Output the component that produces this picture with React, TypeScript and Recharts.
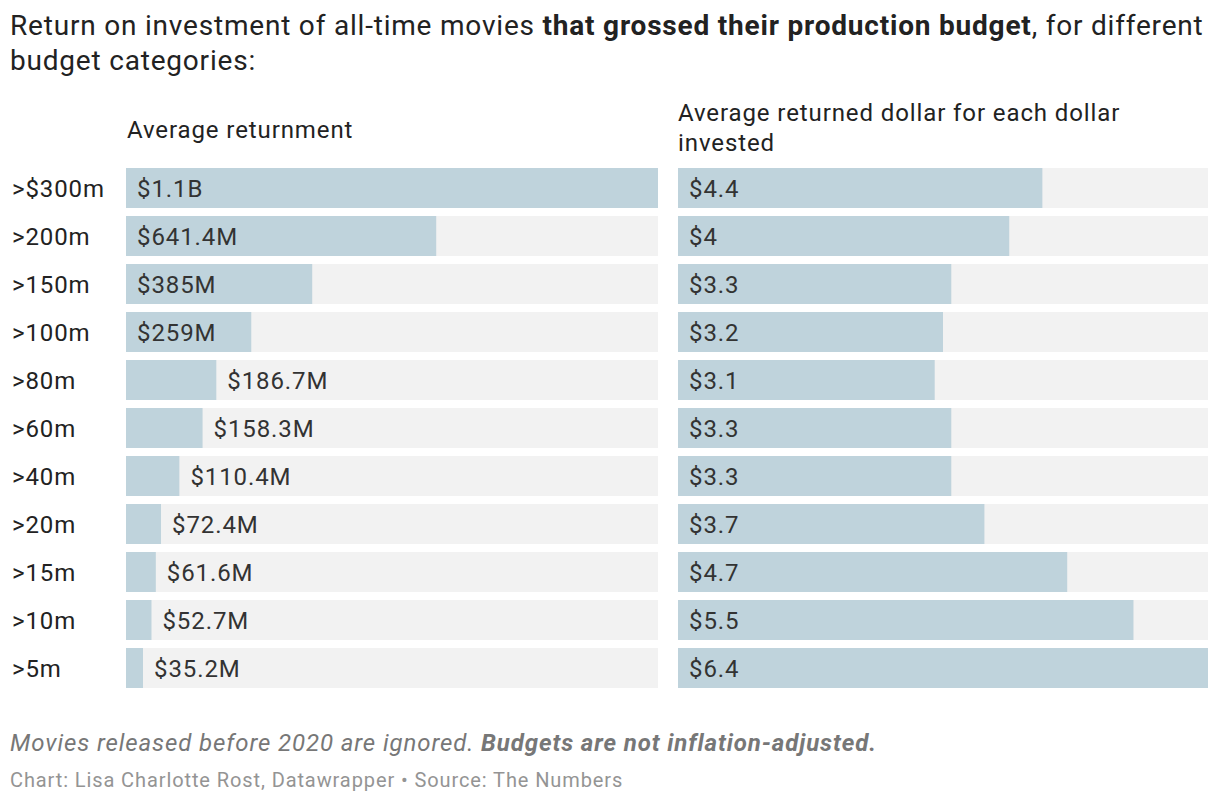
import React from 'react';
import { BarChart, Bar, XAxis, YAxis, LabelList } from 'recharts';

const categories = ['>$300m', '>200m', '>150m', '>100m', '>80m', '>60m', '>40m', '>20m', '>15m', '>10m', '>5m'];
// average gross per movie, in $M
const avgReturn = [1100, 641.4, 385, 259, 186.7, 158.3, 110.4, 72.4, 61.6, 52.7, 35.2];
// dollars returned per dollar invested
const dollarReturn = [4.4, 4, 3.3, 3.2, 3.1, 3.3, 3.3, 3.7, 4.7, 5.5, 6.4];

const leftData = categories.map((name, i) => ({ name, value: avgReturn[i] }));
const rightData = categories.map((name, i) => ({ name, value: dollarReturn[i] }));

const FONT = 'Roboto, "Noto Sans", sans-serif';
const BAR = '#bfd3dc';
const BG = '#f2f2f2';
const SPACING = 0.9;

const fmtMoney = (v: number) => (v >= 1000 ? `$${(v / 1000).toFixed(1)}B` : `$${v}M`);
const fmtDollar = (v: number) => `$${v}`;

// value label goes inside the bar when it fits, otherwise just past its end
const makeLabel = (fmt: (v: number) => string) => (props: any) => {
  const { x, y, width, height, value } = props;
  const text = fmt(Number(value));
  const textW = text.length * 14;
  const inside = textW + 20 < width;
  return (
    <text
      x={inside ? x + 11 : x + width + 11}
      y={y + height / 2 + 1}
      dominantBaseline="central"
      fontSize={24}
      letterSpacing={SPACING}
      fontFamily={FONT}
      fill="#333"
    >
      {text}
    </text>
  );
};

const CategoryTick = (props: any) => {
  const { y, payload } = props;
  return (
    <text
      x={4}
      y={y + 1}
      dominantBaseline="central"
      fontSize={24}
      letterSpacing={SPACING}
      fontFamily={FONT}
      fill="#222"
    >
      {payload.value}
    </text>
  );
};

export default function App() {
  return (
    <div style={{ position: 'relative', width: 1204, height: 788, fontFamily: FONT, color: '#222' }}>
      <div
        style={{
          position: 'absolute',
          left: 2,
          top: 0,
          fontSize: 28,
          lineHeight: '35px',
          letterSpacing: 0.8,
          whiteSpace: 'nowrap',
        }}
      >
        Return on investment of all-time movies <b>that grossed their production budget</b>, for different
        <br />
        budget categories:
      </div>

      <div style={{ position: 'absolute', left: 119, top: 107, fontSize: 24, lineHeight: '30px', letterSpacing: SPACING }}>
        Average returnment
      </div>
      <div style={{ position: 'absolute', left: 670, top: 90, fontSize: 24, lineHeight: '30px', letterSpacing: SPACING }}>
        Average returned dollar for each dollar
        <br />
        invested
      </div>

      <div style={{ position: 'absolute', left: 0, top: 156 }}>
        <BarChart width={650} height={528} data={leftData} layout="vertical" margin={{ top: 0, right: 0, bottom: 0, left: 0 }}>
          <XAxis type="number" hide domain={[0, 'dataMax']} />
          <YAxis type="category" dataKey="name" width={118} axisLine={false} tickLine={false} tick={<CategoryTick />} interval={0} />
          <Bar dataKey="value" fill={BAR} barSize={40} background={{ fill: BG }} isAnimationActive={false}>
            <LabelList dataKey="value" content={makeLabel(fmtMoney)} />
          </Bar>
        </BarChart>
      </div>

      <div style={{ position: 'absolute', left: 670, top: 156 }}>
        <BarChart width={530} height={528} data={rightData} layout="vertical" margin={{ top: 0, right: 0, bottom: 0, left: 0 }}>
          <XAxis type="number" hide domain={[0, 'dataMax']} />
          <YAxis type="category" dataKey="name" hide />
          <Bar dataKey="value" fill={BAR} barSize={40} background={{ fill: BG }} isAnimationActive={false}>
            <LabelList dataKey="value" content={makeLabel(fmtDollar)} />
          </Bar>
        </BarChart>
      </div>

      <div
        style={{
          position: 'absolute',
          left: 2,
          top: 720,
          fontSize: 24,
          lineHeight: '30px',
          letterSpacing: SPACING,
          fontStyle: 'italic',
          color: '#777',
        }}
      >
        Movies released before 2020 are ignored. <b>Budgets are not inflation-adjusted.</b>
      </div>
      <div
        style={{
          position: 'absolute',
          left: 2,
          top: 759,
          fontSize: 20,
          lineHeight: '26px',
          letterSpacing: 0.9,
          color: '#949494',
        }}
      >
        Chart: Lisa Charlotte Rost, Datawrapper • Source: The Numbers
      </div>
    </div>
  );
}
